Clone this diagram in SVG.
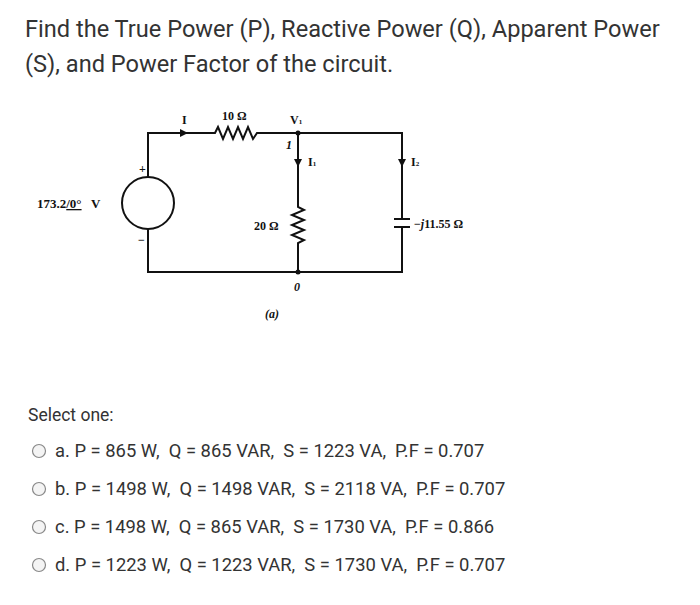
<svg xmlns="http://www.w3.org/2000/svg" width="700" height="605" viewBox="0 0 700 605">
<style>
.w{fill:none;stroke:#111;stroke-width:2}
.t{font-family:"Roboto","Liberation Sans",sans-serif;fill:#333;white-space:pre}
.c{font-family:"Liberation Serif",serif;fill:#111;font-weight:bold;white-space:pre}
.r{fill:#f4f4f4;stroke:#888;stroke-width:1.2}
</style>
<defs><marker id="a" markerWidth="8" markerHeight="8" refX="6" refY="4" orient="auto" markerUnits="userSpaceOnUse"><path d="M0,0 L8,4 L0,8 z" fill="#111"/></marker></defs>
<rect width="700" height="605" fill="#fff"/>
<text class="t" x="25" y="37" font-size="23.6">Find the True Power (P), Reactive Power (Q), Apparent Power</text>
<text class="t" x="25" y="72" font-size="23.6">(S), and Power Factor of the circuit.</text>
<g id="connectors">
<path class="w" d="M148,177 V133 H215 l3,-6 l5,12 l5,-12 l5,12 l5,-12 l5,12 l5,-12 l5,12 l4,-6 H402 V219"/>
<path class="w" d="M402,227 V272 H148 V229"/>
<path class="w" d="M298,133 V207 l6,3 l-12,5 l12,5 l-12,5 l12,5 l-12,5 l12,5 l-6,3 V272"/>
<path class="w" d="M394,219 H410 M394,227 H410"/>
<circle cx="298" cy="133" r="2.5" fill="#111"/>
<circle cx="298" cy="272" r="2.5" fill="#111"/>
<path d="M178,133 h8" stroke="#111" stroke-width="2" marker-end="url(#a)"/>
<path d="M298,158 v7" stroke="#111" stroke-width="2" marker-end="url(#a)"/>
<path d="M402,158 v7" stroke="#111" stroke-width="2" marker-end="url(#a)"/>
</g>
<g id="source"><circle class="w" cx="148" cy="203" r="26" fill="#fff"/>
<text class="c" x="139" y="173" font-size="12" font-weight="normal">+</text>
<text class="c" x="138" y="244" font-size="12" font-weight="normal">−</text>
<text class="c" x="37" y="208" font-size="13">173.2<tspan text-decoration="underline">/0°</tspan>   V</text></g>
<g id="labels">
<text class="c" x="182" y="124" font-size="12">I</text>
<text class="c" x="222" y="120" font-size="12">10 Ω</text>
<text class="c" x="290" y="124" font-size="12">V<tspan font-size="7">1</tspan></text>
<text class="c" x="286" y="149" font-size="12" font-style="italic">1</text>
<text class="c" x="308" y="166" font-size="12">I<tspan font-size="7">1</tspan></text>
<text class="c" x="411" y="166" font-size="12">I<tspan font-size="7">2</tspan></text>
<text class="c" x="254" y="230" font-size="12">20 Ω</text>
<text class="c" x="414" y="228" font-size="12">−<tspan font-style="italic">j</tspan>11.55 Ω</text>
<text class="c" x="294" y="291" font-size="12" font-style="italic">0</text>
<text class="c" x="265" y="318" font-size="12" font-style="italic">(a)</text>
</g>
<text class="t" x="28" y="421" font-size="17.5">Select one:</text>
<g id="options" font-size="18.4">
<circle class="r" cx="39" cy="451" r="6.5"/><text class="t" x="55" y="457">a. P = 865 W,  Q = 865 VAR,  S = 1223 VA,  P.F = 0.707</text>
<circle class="r" cx="39" cy="489" r="6.5"/><text class="t" x="55" y="495">b. P = 1498 W,  Q = 1498 VAR,  S = 2118 VA,  P.F = 0.707</text>
<circle class="r" cx="39" cy="527" r="6.5"/><text class="t" x="55" y="533">c. P = 1498 W,  Q = 865 VAR,  S = 1730 VA,  P.F = 0.866</text>
<circle class="r" cx="39" cy="565" r="6.5"/><text class="t" x="55" y="571">d. P = 1223 W,  Q = 1223 VAR,  S = 1730 VA,  P.F = 0.707</text>
</g>
</svg>
